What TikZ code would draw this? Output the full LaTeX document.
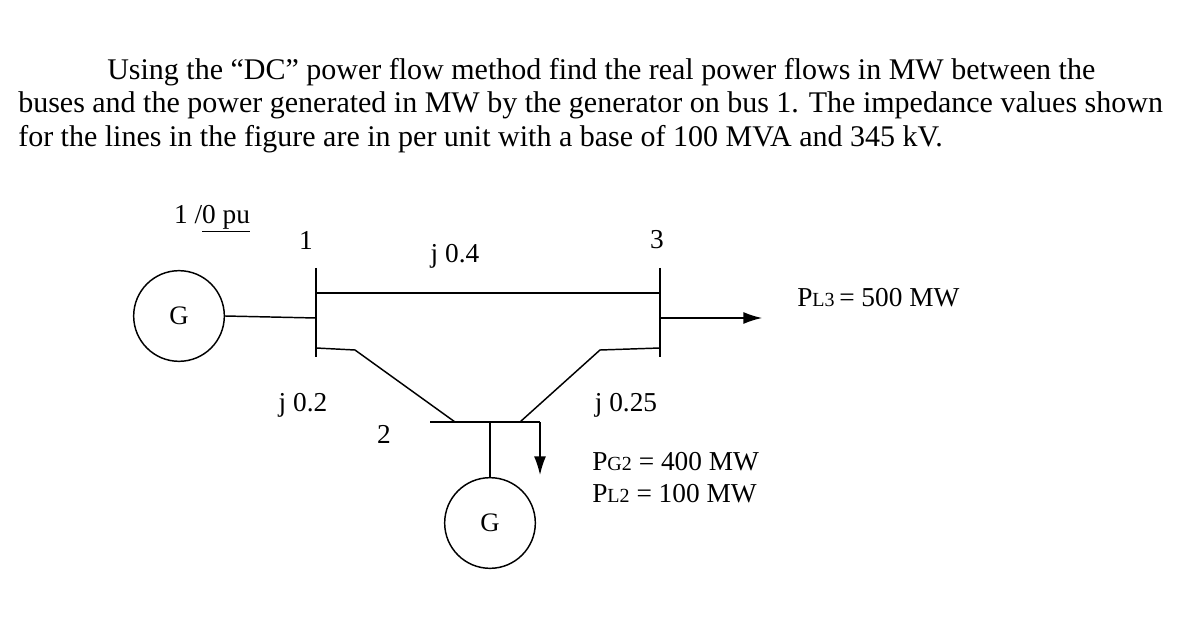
\documentclass[tikz,border=0pt]{standalone}
\usepackage{fontspec}
\setmainfont{Liberation Serif}
\usetikzlibrary{arrows.meta}
\begin{document}
\begin{tikzpicture}[x=0.75pt,y=-0.75pt,
  ln/.style={line width=1.1pt},
  gen/.style={draw,circle,line width=1.1pt,minimum size=68pt,inner sep=0pt,font=\fontsize{20}{22}\selectfont},
  ttl/.style={anchor=base west,inner sep=0pt,font=\fontsize{22.5}{24}\selectfont},
  lbl/.style={inner sep=0pt,font=\fontsize{20.5}{22}\selectfont},
  >={Latex[length=14pt,width=9pt]}]
\useasboundingbox (0,0) rectangle (1203,620);
\node[ttl] (t1) at (107,80) {Using the “DC” power flow method find the real power flows in MW between the};
\node[ttl] (t2) at (18,113) {buses and the power generated in MW by the generator on bus 1. The impedance values shown};
\node[ttl] (t3) at (18,147) {for the lines in the figure are in per unit with a base of 100 MVA and 345 kV.};
% buses
\coordinate (b1t) at (316,268); \coordinate (b1b) at (316,357);
\coordinate (b3t) at (660,268); \coordinate (b3b) at (660,357);
\coordinate (b2l) at (430,422); \coordinate (b2r) at (540,422);
\draw[ln] (b1t) -- (b1b);
\draw[ln] (b3t) -- (b3b);
\draw[ln] (b2l) -- (b2r);
\node[gen] (g1) at (179,316) {G};
\node[gen] (g2) at (490,523) {G};
\draw[ln] (g1.east) -- (316,318);
\draw[ln] (316,293) -- (660,293);
\draw[ln,->] (660,318) -- (762,318);
\draw[ln] (316,348) -- (355,350) -- (455,422);
\draw[ln] (520,422) -- (600,350) -- (660,348);
\draw[ln] (490,422) -- (g2.north);
\draw[ln,->] (b2r) -- (540,475);
% labels
\node[lbl] (v1) at (212,219) {1 /\underline{0 pu}};
\node[lbl] (n1) at (306,240) {1};
\node[lbl] (n3) at (657,240) {3};
\node[lbl] (z13) at (455,256) {j 0.4};
\node[lbl] (z12) at (303,405) {j 0.2};
\node[lbl] (n2) at (384,434) {2};
\node[lbl] (z23) at (626,405) {j 0.25};
\node[lbl,anchor=west] (pl3) at (797,298) {P{\fontsize{15}{16}\selectfont L3}\,= 500 MW};
\node[lbl,anchor=west] (pg2) at (592,462) {P{\fontsize{15}{16}\selectfont G2} = 400 MW};
\node[lbl,anchor=west] (pl2) at (592,494) {P{\fontsize{15}{16}\selectfont L2} = 100 MW};
\end{tikzpicture}
\end{document}
